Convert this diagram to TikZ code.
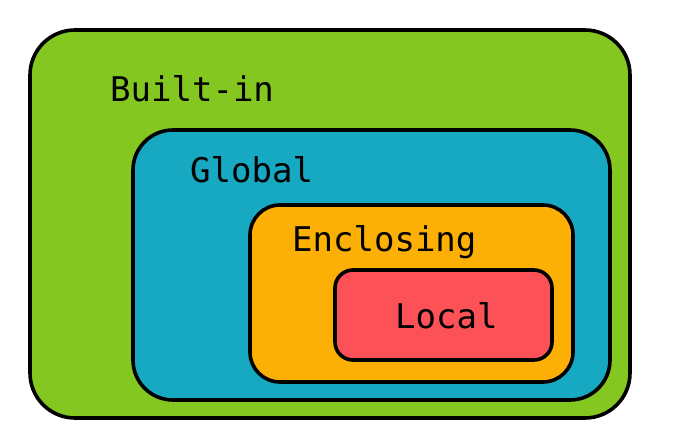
\documentclass[tikz,border=0pt]{standalone}
\usepackage{fontspec}
\setmonofont{DejaVu Sans Mono}
\definecolor{cgreen}{HTML}{84C720}
\definecolor{cblue}{HTML}{17A8C2}
\definecolor{corange}{HTML}{FCB005}
\definecolor{cred}{HTML}{FC5257}
\begin{document}
\begin{tikzpicture}[x=1pt,y=-1pt,
  scopebox/.style={draw=black,line width=3.6pt},
  lbl/.style={anchor=west,inner sep=0pt,font=\ttfamily\fontsize{34}{34}\selectfont}]
\useasboundingbox (0,0) rectangle (678,445);
\draw[scopebox,fill=cgreen,rounded corners=45pt] (30,30) rectangle (630,418);
\draw[scopebox,fill=cblue,rounded corners=40pt] (133,130) rectangle (610,400);
\draw[scopebox,fill=corange,rounded corners=30pt] (250,205) rectangle (573,382);
\draw[scopebox,fill=cred,rounded corners=18pt] (335,270) rectangle (552,360);
\node[lbl] (b) at (110,89) {Built-in};
\node[lbl] (g) at (190,170) {Global};
\node[lbl] (e) at (292,242) {Enclosing};
\node[lbl] (l) at (395,316) {Local};
\end{tikzpicture}
\end{document}
